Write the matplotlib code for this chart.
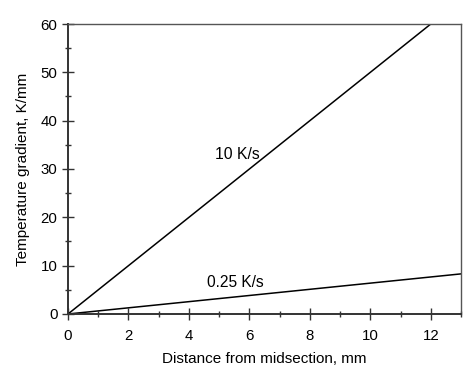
import numpy as np
import matplotlib
matplotlib.use('Agg')
import matplotlib.pyplot as plt
from matplotlib.ticker import MultipleLocator

plt.rcParams['font.family'] = ['Liberation Sans', 'DejaVu Sans']

# Cooling rate lines: temperature gradient vs distance from midsection
fast_x = [0, 12]
fast_y = [0, 60]
slow_x = [0, 13]
slow_y = [0, 8.3]
labels = ['10 K/s', '0.25 K/s']

fig = plt.figure(figsize=(4.74, 3.84), dpi=100)
ax = fig.add_axes([0.1435, 0.1823, 0.8291, 0.7552])

ax.plot(fast_x, fast_y, color='black', lw=1.1)
ax.plot(slow_x, slow_y, color='black', lw=1.1)

ax.text(4.85, 33.0, labels[0], fontsize=11.3, va='center', ha='left')
ax.text(4.6, 6.5, labels[1], fontsize=11.2, va='center', ha='left')

ax.set_xlim(0, 13)
ax.set_ylim(0, 60)
ax.xaxis.set_major_locator(MultipleLocator(2))
ax.xaxis.set_minor_locator(MultipleLocator(1))
ax.yaxis.set_major_locator(MultipleLocator(10))
ax.yaxis.set_minor_locator(MultipleLocator(5))
ax.tick_params(which='major', direction='inout', length=8, width=1, labelsize=10.8, color='#333333')
ax.tick_params(which='minor', direction='inout', length=5, width=1, color='#333333')
ax.tick_params(axis='x', which='major', pad=7)

for side in ['left', 'bottom']:
    ax.spines[side].set_linewidth(1.4)
    ax.spines[side].set_color('#333333')
for side in ['top', 'right']:
    ax.spines[side].set_linewidth(1.0)
    ax.spines[side].set_color('#555555')

ax.set_xlabel('Distance from midsection, mm', fontsize=11, labelpad=6)
ax.set_ylabel('Temperature gradient, K/mm', fontsize=11, labelpad=8)

fig.savefig('out.png', dpi=100)
